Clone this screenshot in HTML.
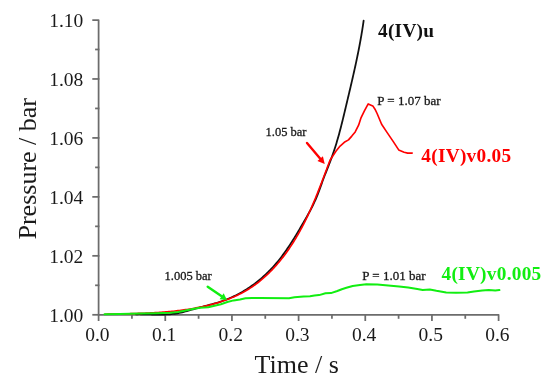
<!DOCTYPE html>
<html><head><meta charset="utf-8"><style>
html,body{margin:0;padding:0;background:#fff;}
body{width:550px;height:388px;overflow:hidden;}
svg{display:block;}
text{font-family:"Liberation Serif","Times New Roman",serif;}
</style></head><body>
<svg width="550" height="388" viewBox="0 0 550 388">
<rect width="550" height="388" fill="#fff"/>
<g stroke="#6c6c6c" stroke-width="1.75" fill="none" stroke-linecap="butt" stroke-linejoin="round">
<path d="M92.30,20.00 L98.60,20.00 L98.60,314.80 L498.60,314.80 L498.60,321.00"/>
<line x1="92.30" y1="314.80" x2="99.40" y2="314.80"/>
<line x1="98.60" y1="314.00" x2="98.60" y2="321.00"/>
<line x1="95.10" y1="285.32" x2="99.40" y2="285.32"/><line x1="92.30" y1="255.84" x2="99.40" y2="255.84"/><line x1="95.10" y1="226.36" x2="99.40" y2="226.36"/><line x1="92.30" y1="196.88" x2="99.40" y2="196.88"/><line x1="95.10" y1="167.40" x2="99.40" y2="167.40"/><line x1="92.30" y1="137.92" x2="99.40" y2="137.92"/><line x1="95.10" y1="108.44" x2="99.40" y2="108.44"/><line x1="92.30" y1="78.96" x2="99.40" y2="78.96"/><line x1="95.10" y1="49.48" x2="99.40" y2="49.48"/><line x1="131.93" y1="314.00" x2="131.93" y2="318.80"/><line x1="165.27" y1="314.00" x2="165.27" y2="321.00"/><line x1="198.60" y1="314.00" x2="198.60" y2="318.80"/><line x1="231.93" y1="314.00" x2="231.93" y2="321.00"/><line x1="265.27" y1="314.00" x2="265.27" y2="318.80"/><line x1="298.60" y1="314.00" x2="298.60" y2="321.00"/><line x1="331.93" y1="314.00" x2="331.93" y2="318.80"/><line x1="365.27" y1="314.00" x2="365.27" y2="321.00"/><line x1="398.60" y1="314.00" x2="398.60" y2="318.80"/><line x1="431.93" y1="314.00" x2="431.93" y2="321.00"/><line x1="465.27" y1="314.00" x2="465.27" y2="318.80"/>
</g>
<g font-size="19.5" fill="#1a1a1a">
<text x="83.3" y="322.10" text-anchor="end">1.00</text><text x="83.3" y="263.14" text-anchor="end">1.02</text><text x="83.3" y="204.18" text-anchor="end">1.04</text><text x="83.3" y="145.22" text-anchor="end">1.06</text><text x="83.3" y="86.26" text-anchor="end">1.08</text><text x="83.3" y="27.30" text-anchor="end">1.10</text>
<text x="97.40" y="341" text-anchor="middle">0.0</text><text x="164.07" y="341" text-anchor="middle">0.1</text><text x="230.73" y="341" text-anchor="middle">0.2</text><text x="297.40" y="341" text-anchor="middle">0.3</text><text x="364.07" y="341" text-anchor="middle">0.4</text><text x="430.73" y="341" text-anchor="middle">0.5</text><text x="497.40" y="341" text-anchor="middle">0.6</text>
</g>
<text x="0" y="0" font-size="26" fill="#1a1a1a" transform="translate(35.8,239.5) rotate(-90)">Pressure / bar</text>
<text x="254.5" y="373" font-size="26" fill="#1a1a1a">Time / s</text>
<g fill="none" stroke-linejoin="round" stroke-linecap="round">
<path d="M135.99,314.26 L137.59,314.23 L139.19,314.22 L140.79,314.23 L142.40,314.24 L144.01,314.27 L145.62,314.31 L147.23,314.35 L148.84,314.39 L150.46,314.44 L152.07,314.48 L153.69,314.52 L155.30,314.56 L156.92,314.59 L158.53,314.60 L160.14,314.61 L161.75,314.60 L163.35,314.58 L164.95,314.54 L166.55,314.47 L168.15,314.39 L169.74,314.28 L171.33,314.14 L172.91,313.97 L174.49,313.78 L176.06,313.54 L177.62,313.28 L179.18,312.97 L180.73,312.64 L182.28,312.28 L183.83,311.89 L185.37,311.49 L186.91,311.07 L188.45,310.64 L189.99,310.20 L191.53,309.75 L193.07,309.31 L194.61,308.87 L196.16,308.43 L197.71,308.01 L199.26,307.59 L200.81,307.18 L202.37,306.78 L203.93,306.37 L205.48,305.97 L207.04,305.56 L208.59,305.16 L210.14,304.74 L211.69,304.32 L213.23,303.89 L214.77,303.45 L216.31,302.99 L217.84,302.52 L219.36,302.04 L220.87,301.53 L222.38,301.01 L223.88,300.47 L225.37,299.91 L226.85,299.34 L228.33,298.74 L229.80,298.12 L231.26,297.49 L232.71,296.83 L234.15,296.16 L235.59,295.46 L237.02,294.74 L238.44,294.00 L239.84,293.24 L241.24,292.47 L242.63,291.67 L244.01,290.85 L245.38,290.02 L246.74,289.17 L248.09,288.29 L249.43,287.41 L250.76,286.50 L252.08,285.57 L253.38,284.63 L254.68,283.68 L255.96,282.70 L257.23,281.71 L258.49,280.70 L259.73,279.68 L260.97,278.65 L262.19,277.59 L263.39,276.53 L264.59,275.45 L265.77,274.35 L266.94,273.24 L268.09,272.12 L269.23,270.98 L270.35,269.83 L271.46,268.67 L272.56,267.50 L273.64,266.31 L274.70,265.11 L275.75,263.91 L276.79,262.69 L277.81,261.45 L278.82,260.21 L279.82,258.96 L280.80,257.70 L281.77,256.43 L282.73,255.15 L283.68,253.86 L284.62,252.57 L285.55,251.26 L286.47,249.95 L287.37,248.63 L288.27,247.31 L289.17,245.98 L290.05,244.64 L290.92,243.29 L291.79,241.94 L292.65,240.59 L293.50,239.23 L294.35,237.86 L295.19,236.49 L296.03,235.12 L296.86,233.75 L297.69,232.37 L298.51,230.99 L299.33,229.60 L300.14,228.21 L300.95,226.83 L301.76,225.44 L302.57,224.05 L303.38,222.66 L304.18,221.26 L304.99,219.87 L305.79,218.48 L306.59,217.09 L307.38,215.69 L308.16,214.29 L308.94,212.89 L309.71,211.48 L310.47,210.07 L311.21,208.66 L311.94,207.23 L312.66,205.81 L313.36,204.37 L314.04,202.93 L314.71,201.48 L315.36,200.02 L316.00,198.55 L316.61,197.08 L317.22,195.60 L317.81,194.11 L318.38,192.62 L318.95,191.12 L319.50,189.62 L320.05,188.11 L320.60,186.60 L321.14,185.09 L321.69,183.58 L322.23,182.07 L322.79,180.56 L323.35,179.06 L323.91,177.55 L324.49,176.05 L325.06,174.55 L325.65,173.06 L326.23,171.56 L326.82,170.07 L327.41,168.57 L327.99,167.08 L328.58,165.58 L329.16,164.09 L329.74,162.59 L330.32,161.09 L330.88,159.59 L331.44,158.09 L332.00,156.58 L332.54,155.07 L333.07,153.56 L333.59,152.04 L334.10,150.53 L334.61,149.00 L335.10,147.48 L335.58,145.95 L336.06,144.42 L336.53,142.89 L336.98,141.35 L337.44,139.82 L337.88,138.28 L338.32,136.73 L338.75,135.19 L339.17,133.64 L339.59,132.09 L340.00,130.54 L340.41,128.99 L340.81,127.44 L341.21,125.88 L341.61,124.33 L342.00,122.77 L342.38,121.21 L342.77,119.65 L343.15,118.09 L343.53,116.53 L343.90,114.97 L344.28,113.41 L344.65,111.85 L345.02,110.28 L345.40,108.72 L345.77,107.16 L346.14,105.60 L346.51,104.04 L346.88,102.47 L347.25,100.91 L347.62,99.35 L347.99,97.79 L348.37,96.23 L348.74,94.66 L349.11,93.10 L349.47,91.54 L349.84,89.98 L350.21,88.42 L350.58,86.85 L350.94,85.29 L351.31,83.73 L351.67,82.17 L352.03,80.60 L352.39,79.04 L352.75,77.48 L353.10,75.91 L353.46,74.35 L353.81,72.78 L354.16,71.22 L354.51,69.65 L354.86,68.09 L355.20,66.52 L355.54,64.95 L355.88,63.38 L356.21,61.82 L356.55,60.25 L356.88,58.68 L357.20,57.11 L357.53,55.54 L357.85,53.96 L358.17,52.39 L358.48,50.82 L358.79,49.24 L359.10,47.67 L359.40,46.09 L359.70,44.52 L359.99,42.94 L360.28,41.36 L360.57,39.78 L360.85,38.20 L361.13,36.62 L361.40,35.04 L361.67,33.45 L361.93,31.87 L362.19,30.28 L362.44,28.69 L362.69,27.10 L362.93,25.52 L363.17,23.92 L363.40,22.33 L363.63,20.74" stroke="#111" stroke-width="1.8"/>
<path d="M105.08,314.27 L106.59,314.23 L108.10,314.19 L109.62,314.16 L111.13,314.12 L112.64,314.09 L114.16,314.05 L115.67,314.02 L117.19,313.99 L118.71,313.95 L120.22,313.92 L121.74,313.89 L123.26,313.85 L124.78,313.82 L126.30,313.78 L127.81,313.74 L129.33,313.71 L130.85,313.67 L132.37,313.62 L133.89,313.58 L135.41,313.54 L136.93,313.49 L138.46,313.44 L139.98,313.39 L141.50,313.33 L143.02,313.27 L144.54,313.21 L146.06,313.14 L147.58,313.08 L149.10,313.00 L150.63,312.93 L152.15,312.85 L153.67,312.76 L155.19,312.68 L156.71,312.58 L158.23,312.48 L159.75,312.38 L161.27,312.27 L162.79,312.16 L164.31,312.04 L165.83,311.92 L167.35,311.79 L168.87,311.65 L170.39,311.51 L171.91,311.36 L173.43,311.20 L174.95,311.04 L176.46,310.87 L177.98,310.69 L179.50,310.50 L181.01,310.31 L182.53,310.11 L184.04,309.91 L185.56,309.69 L187.07,309.46 L188.58,309.23 L190.10,308.99 L191.61,308.74 L193.12,308.48 L194.63,308.21 L196.14,307.93 L197.65,307.65 L199.16,307.35 L200.66,307.04 L202.17,306.72 L203.67,306.40 L205.17,306.06 L206.66,305.71 L208.16,305.35 L209.65,304.97 L211.14,304.59 L212.62,304.19 L214.10,303.78 L215.57,303.36 L217.04,302.93 L218.51,302.48 L219.97,302.02 L221.42,301.55 L222.87,301.07 L224.31,300.57 L225.75,300.05 L227.17,299.52 L228.59,298.98 L230.01,298.42 L231.41,297.85 L232.81,297.27 L234.20,296.66 L235.58,296.04 L236.95,295.41 L238.32,294.76 L239.67,294.09 L241.01,293.41 L242.35,292.71 L243.67,292.00 L244.98,291.26 L246.28,290.51 L247.57,289.74 L248.85,288.96 L250.12,288.15 L251.37,287.33 L252.62,286.49 L253.85,285.64 L255.07,284.76 L256.28,283.87 L257.48,282.97 L258.66,282.05 L259.84,281.11 L261.01,280.16 L262.16,279.20 L263.30,278.21 L264.43,277.22 L265.55,276.21 L266.66,275.18 L267.76,274.15 L268.85,273.10 L269.93,272.03 L270.99,270.96 L272.05,269.87 L273.09,268.76 L274.13,267.65 L275.15,266.53 L276.17,265.39 L277.17,264.24 L278.16,263.08 L279.15,261.91 L280.12,260.73 L281.08,259.54 L282.03,258.34 L282.98,257.13 L283.91,255.91 L284.83,254.68 L285.74,253.44 L286.65,252.20 L287.54,250.94 L288.42,249.68 L289.29,248.41 L290.16,247.13 L291.01,245.84 L291.86,244.55 L292.69,243.25 L293.52,241.95 L294.33,240.64 L295.14,239.32 L295.94,238.00 L296.72,236.67 L297.50,235.34 L298.27,234.00 L299.03,232.66 L299.78,231.31 L300.53,229.96 L301.26,228.60 L301.98,227.24 L302.70,225.88 L303.41,224.52 L304.10,223.15 L304.79,221.78 L305.48,220.41 L306.15,219.04 L306.81,217.66 L307.47,216.28 L308.12,214.90 L308.76,213.52 L309.40,212.13 L310.03,210.75 L310.65,209.36 L311.26,207.97 L311.87,206.58 L312.48,205.18 L313.07,203.79 L313.67,202.39 L314.25,200.99 L314.84,199.59 L315.41,198.19 L315.99,196.79 L316.56,195.38 L317.12,193.98 L317.69,192.57 L318.24,191.16 L318.80,189.75 L319.35,188.34 L319.90,186.93 L320.45,185.52 L320.99,184.10 L321.54,182.69 L322.08,181.27 L322.62,179.86 L323.16,178.44 L323.70,177.02 L324.23,175.60 L324.77,174.18 L325.31,172.76 L325.84,171.34 L326.38,169.92 L326.91,168.50 L327.45,167.08 L327.99,165.66 L328.53,164.24 L329.07,162.82 L329.61,161.39 L330.16,159.97 L335.90,151.20 L340.10,146.10 L344.30,142.30 L348.50,139.90 L351.80,136.10 L355.20,131.90 L358.60,125.20 L361.10,117.60 L364.40,110.90 L368.20,103.90 L372.80,105.90 L375.00,109.20 L377.10,113.50 L381.60,124.30 L387.00,132.40 L393.30,141.60 L398.70,149.90 L404.10,152.20 L407.70,153.10 L412.20,153.10" stroke="#ff0000" stroke-width="1.65"/>
<path d="M104.50,314.20 L120.00,313.90 L140.00,313.60 L156.40,313.30 L170.00,312.80 L178.00,312.00 L185.50,310.60 L192.70,309.10 L200.00,307.80 L208.20,307.30 L220.90,304.20 L227.30,302.00 L233.60,300.40 L240.00,299.40 L245.50,298.30 L252.00,298.10 L260.00,298.10 L289.00,298.20 L294.50,297.30 L303.60,296.40 L310.00,296.30 L314.50,295.50 L319.10,295.10 L325.50,293.30 L330.90,293.10 L337.30,291.00 L341.80,289.20 L346.40,287.80 L352.70,286.00 L360.00,285.10 L366.40,284.20 L377.30,284.50 L388.20,285.50 L399.10,286.40 L408.20,287.60 L417.30,289.10 L422.70,290.00 L429.80,289.50 L436.40,290.80 L446.20,292.40 L456.00,292.70 L467.50,292.40 L474.00,291.40 L482.20,290.40 L488.70,290.10 L495.30,290.40 L499.40,290.10" stroke="#11ee11" stroke-width="2.0"/>
</g>
<line x1="307" y1="143" x2="320.50" y2="158.94" stroke="#ff0000" stroke-width="2.4" stroke-linecap="round"/><polygon points="324.70,163.90 317.43,160.88 322.92,156.23" fill="#ff0000"/>
<line x1="207.7" y1="286.7" x2="222.05" y2="296.51" stroke="#11ee11" stroke-width="2.4" stroke-linecap="round"/><polygon points="227.00,299.90 219.60,299.20 223.67,293.26" fill="#11ee11"/>
<g fill="#1a1a1a" font-size="12.5" stroke="#1a1a1a" stroke-width="0.3">
<text x="265.5" y="136.4">1.05 bar</text>
<text x="164.5" y="280.1">1.005 bar</text>
<text x="377.3" y="104.8" font-size="13">P = 1.07 bar</text>
<text x="362.3" y="279.8" font-size="13">P = 1.01 bar</text>
</g>
<g font-weight="bold" font-size="19.3" letter-spacing="0.28">
<text x="378" y="36.6" fill="#111">4(IV)u</text>
<text x="421.3" y="162.2" fill="#ff0000">4(IV)v0.05</text>
<text x="441.5" y="279.9" fill="#11ee11">4(IV)v0.005</text>
</g>
</svg>
</body></html>
